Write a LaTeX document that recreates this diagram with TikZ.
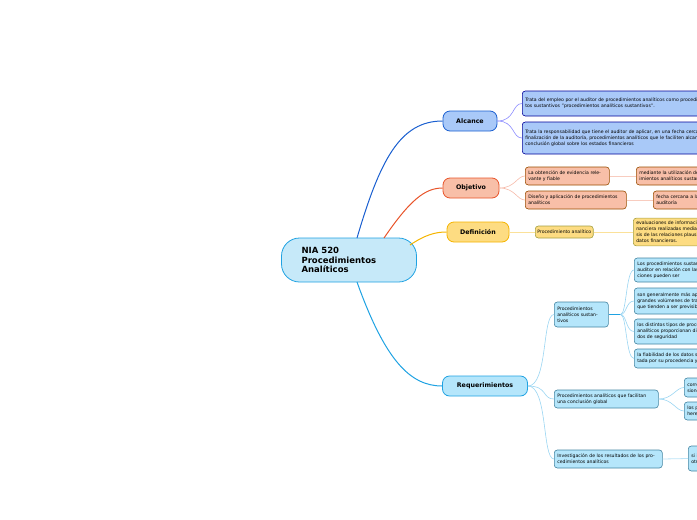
\documentclass[tikz,border=0pt]{standalone}
\usepackage{fontspec}
\setmainfont{DejaVu Sans}
\begin{document}
\begin{tikzpicture}[x=1pt,y=-1pt,
 base/.style={rounded corners=3pt,draw=#1!60!black,line width=0.6pt,font=\fontsize{4.6}{6}\selectfont,align=left,anchor=west,inner sep=3pt},
 lvone/.style={rounded corners=7pt,line width=0.8pt,font=\bfseries\fontsize{6.3}{7}\selectfont,minimum height=20pt,inner sep=2pt},
 blu/.style={base=blue,fill=bluef},
 org/.style={base=orange,fill=orgf},
 yel/.style={base=yellow,fill=yelf},
 cya/.style={base=cyan,fill=cyaf}]
\definecolor{bluef}{HTML}{A9C9F8}\definecolor{blued}{HTML}{1A5FD0}
\definecolor{orgf}{HTML}{F8BFA8}\definecolor{orgd}{HTML}{E8542A}
\definecolor{yelf}{HTML}{FDDC82}\definecolor{yeld}{HTML}{F5B400}
\definecolor{cyaf}{HTML}{B5E6FB}\definecolor{cyad}{HTML}{1FA2E2}
\definecolor{rootf}{HTML}{C6E9F9}
\path[use as bounding box] (0,0) rectangle (697,520);
\clip (0,0) rectangle (697,520);
% root
\node[draw=cyad,fill=rootf,rounded corners=18pt,minimum width=135pt,minimum height=44pt,line width=0.8pt] (root) at (349,260) {};
\node[anchor=west,align=left,font=\bfseries\fontsize{8.5}{9.5}\selectfont] (roott) at (298,260) {NIA 520\\Procedimientos\\Analíticos};
% level 1
\node[lvone,draw=blued,fill=bluef,minimum width=54pt] (alc) at (470,121) {Alcance};
\node[lvone,draw=orgd,fill=orgf,minimum width=56pt] (obj) at (471,188) {Objetivo};
\node[lvone,draw=yeld,fill=yelf,minimum width=62pt] (def) at (478,232) {Definición};
\node[lvone,draw=cyad,fill=cyaf,minimum width=85pt] (req) at (485,386) {Requerimientos};
\draw[blued,line width=1pt] (357,238) .. controls (380,160) and (400,121) .. (alc.west);
\draw[orgd,line width=1pt] (384,238) .. controls (410,200) and (425,188) .. (obj.west);
\draw[yeld,line width=1pt] (410,245) .. controls (425,235) and (435,232) .. (def.west);
\draw[cyad,line width=1pt] (357,282) .. controls (385,360) and (410,386) .. (req.west);
% alcance children
\node[blu,text width=190pt,minimum height=25pt] (a1) at (522,103.5) {Trata del empleo por el auditor de procedimientos analíticos como procedimientos sustantivos "procedimientos analíticos sustantivos".};
\node[blu,text width=190pt,minimum height=32pt] (a2) at (522,138) {Trata la responsabilidad que tiene el auditor de aplicar, en una fecha cercana a la finalización de la auditoría, procedimientos analíticos que le faciliten alcanzar una conclusión global sobre los estados financieros};
\foreach \t in {a1,a2}\draw[blue!45,line width=0.6pt] (alc.east) .. controls (515,121) and ([xshift=-10pt]\t.west) .. (\t.west);
% objetivo
\node[org,text width=78pt,minimum height=18pt] (o1) at (525,176) {La obtención de evidencia relevante y fiable};
\node[org,text width=95pt,minimum height=18pt] (o2) at (525,200) {Diseño y aplicación de procedimientos analíticos};
\node[org,text width=90pt,minimum height=18pt] (o3) at (636,176) {mediante la utilización de procedimientos analíticos sustantivos};
\node[org,text width=90pt,minimum height=18pt] (o4) at (653,200) {fecha cercana a la finalización de la auditoría};
\foreach \t in {o1,o2}\draw[orgd!40,line width=0.6pt] (obj.east) .. controls (515,188) and ([xshift=-8pt]\t.west) .. (\t.west);
\draw[orgd!30,line width=0.8pt] (o1.east) -- (o3.west);
\draw[orgd!30,line width=0.8pt] (o2.east) -- (o4.west);
% definicion
\node[yel,minimum height=12pt,inner sep=2pt] (d1) at (535,232) {Procedimiento analítico};
\node[yel,text width=90pt,minimum height=24pt] (d2) at (633,232) {evaluaciones de información financiera realizadas mediante el análisis de las relaciones plausibles entre datos financieros.};
\draw[yeld!40,line width=0.8pt] (def.east) -- (d1.west);
\draw[yeld!40,line width=0.8pt] (d1.east) -- (d2.west);
% requerimientos
\node[cya,text width=48pt,minimum height=25pt] (r1) at (554,314.5) {Procedimientos analíticos sustantivos};
\node[cya,text width=98pt,minimum height=18pt] (r2) at (554,399) {Procedimientos analíticos que facilitan una conclusión global};
\node[cya,text width=102pt,minimum height=18pt] (r3) at (554,459) {Investigación de los resultados de los procedimientos analíticos};
\foreach \t in {r1,r2,r3}\draw[cyad!45,line width=0.6pt] (req.east) .. controls (548,386) and ([xshift=-12pt]\t.west) .. (\t.west);
\node[cya,text width=90pt,minimum height=24pt] (s1) at (634,270) {Los procedimientos sustantivos del auditor en relación con las afirmaciones pueden ser};
\node[cya,text width=90pt,minimum height=26pt] (s2) at (634,301) {son generalmente más aplicables a de grandes volúmenes de transacciones que tienden a ser previsibles};
\node[cya,text width=90pt,minimum height=25pt] (s3) at (634,331.5) {los distintos tipos de procedimientos analíticos proporcionan distintos grados de seguridad};
\node[cya,text width=90pt,minimum height=19pt] (s4) at (634,358.5) {la fiabilidad de los datos se ve afectada por su procedencia y naturaleza};
\draw[cyad,line width=1pt] (r1.east) -- ++(12,0) coordinate (r1j);
\foreach \t in {s1,s2,s3,s4}\draw[cyad!45,line width=0.6pt] (r1j) .. controls ([xshift=6pt]r1j) and ([xshift=-8pt]\t.west) .. (\t.west);
\node[cya,text width=60pt,minimum height=19pt] (t1) at (684,387.5) {corroborar las conclusiones};
\node[cya,text width=60pt,minimum height=18pt] (t2) at (684,411) {los procedimientos incoherentes};
\foreach \t in {t1,t2}\draw[cyad!45,line width=0.6pt] (r2.east) .. controls ([xshift=14pt]r2.east) and ([xshift=-8pt]\t.west) .. (\t.west);
\node[cya,text width=60pt,minimum height=25pt] (u1) at (688,458.5) {si identifican relaciones otros};
\draw[cyad!30,line width=0.8pt] (r3.east) -- (u1.west);
\end{tikzpicture}
\end{document}
